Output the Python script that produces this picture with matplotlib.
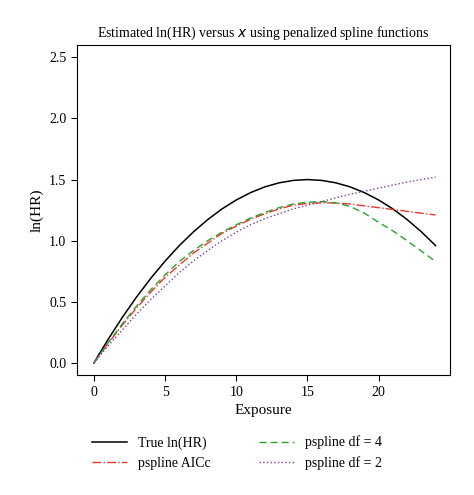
import matplotlib
matplotlib.use("Agg")
import matplotlib.pyplot as plt

plt.rcParams['font.family'] = ['Liberation Serif', 'DejaVu Serif']

exposure = list(range(25))
true_hr = [0, 0.193, 0.373, 0.54, 0.693, 0.833, 0.96, 1.073, 1.173, 1.26, 1.333, 1.393, 1.44,
           1.473, 1.493, 1.5, 1.493, 1.473, 1.44, 1.393, 1.333, 1.26, 1.173, 1.073, 0.96]
aicc = [0, 0.16, 0.31, 0.45, 0.58, 0.70, 0.80, 0.90, 0.98, 1.06, 1.12, 1.175, 1.22,
        1.26, 1.29, 1.305, 1.31, 1.308, 1.30, 1.285, 1.27, 1.255, 1.24, 1.225, 1.21]
df4 = [0, 0.165, 0.32, 0.465, 0.60, 0.72, 0.83, 0.92, 1.00, 1.07, 1.13, 1.185, 1.23,
       1.27, 1.30, 1.315, 1.32, 1.31, 1.28, 1.225, 1.15, 1.08, 1.00, 0.915, 0.83]
df2 = [0, 0.14, 0.27, 0.40, 0.52, 0.63, 0.74, 0.835, 0.92, 1.00, 1.07, 1.13, 1.18,
       1.22, 1.26, 1.29, 1.32, 1.35, 1.38, 1.405, 1.43, 1.455, 1.48, 1.50, 1.52]

fig = plt.figure(figsize=(4.74, 4.95), dpi=100)
ax = fig.add_axes([0.162, 0.242, 0.787, 0.667])

ax.plot(exposure, true_hr, color='black', lw=1.1, label='True ln(HR)')
ax.plot(exposure, aicc, color='#e8382c', lw=1.0, ls='-.', label='pspline AICc')
ax.plot(exposure, df4, color='#2ca02c', lw=1.0, ls=(0, (5, 3)), label='pspline df = 4')
ax.plot(exposure, df2, color='#7b3fa0', lw=1.0, ls=':', label='pspline df = 2')

ax.set_xlim(-1.2, 25)
ax.set_ylim(-0.1, 2.6)
ax.set_xticks([0, 5, 10, 15, 20])
ax.set_yticks([0.0, 0.5, 1.0, 1.5, 2.0, 2.5])
ax.set_yticklabels(['0.0', '0.5', '1.0', '1.5', '2.0', '2.5'])
ax.tick_params(direction='out', labelsize=10, length=4)
ax.set_xlabel('Exposure', fontsize=11)
ax.set_ylabel('ln(HR)', fontsize=11)
ax.set_title('Estimated ln(HR) versus $x$ using penalized spline functions', fontsize=10, pad=6)

handles, labels = ax.get_legend_handles_labels()
fig.legend(handles, labels, loc='lower center', bbox_to_anchor=(0.5, 0.025), ncol=2,
           frameon=False, fontsize=10, handlelength=2.5, columnspacing=3.5)

fig.savefig('out.png', dpi=100)
